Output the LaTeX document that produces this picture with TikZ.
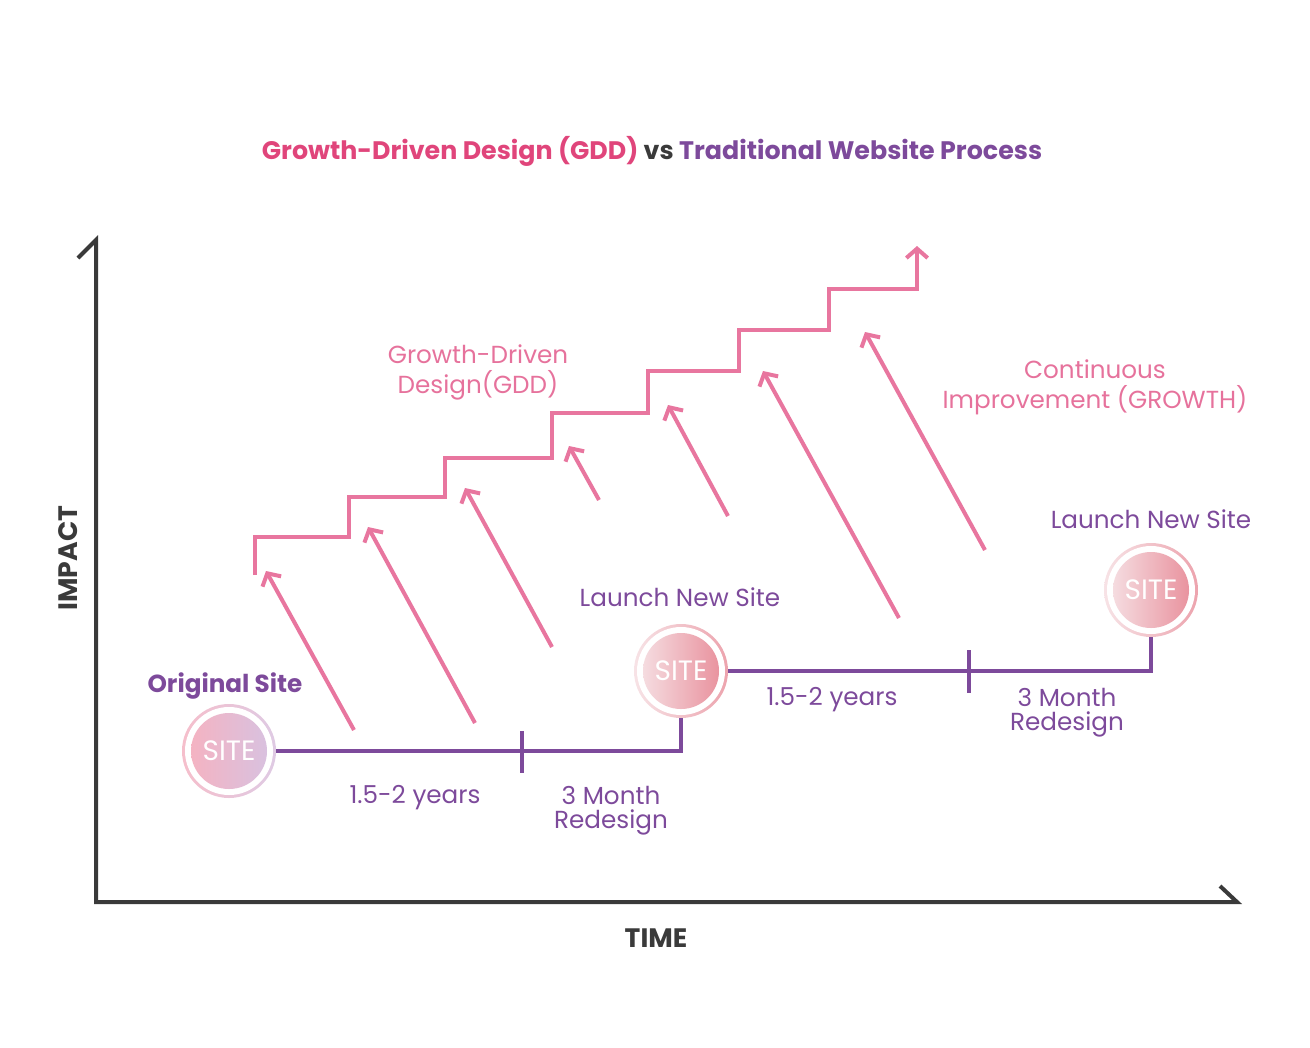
\documentclass[tikz,border=0pt]{standalone}
\usepackage{fontspec}
\setmainfont{Poppins}
\usetikzlibrary{arrows.meta}
\definecolor{gpink}{HTML}{E8769F}
\definecolor{tpink}{HTML}{E0457B}
\definecolor{lpink}{HTML}{E6729C}
\definecolor{gpurp}{HTML}{7D4A9B}
\definecolor{gdark}{HTML}{3A3A3A}
\definecolor{sitel}{HTML}{F5DCE0}
\definecolor{siter}{HTML}{E9939F}
\definecolor{origl}{HTML}{F4B3C2}
\definecolor{origr}{HTML}{D9C1DF}
\begin{document}
\begin{tikzpicture}[x=0.75pt,y=-0.75pt,
  axisline/.style={draw=gdark,line width=3pt},
  stair/.style={draw=gpink,line width=3pt},
  growarrow/.style={draw=gpink,line width=3pt,-{Straight Barb[length=7pt,width=16pt,line width=3pt]}},
  purpline/.style={draw=gpurp,line width=3pt},
  lbl/.style={font=\fontsize{18.5}{18}\selectfont,align=center,inner sep=0pt},
  lbltwo/.style={font=\fontsize{18.5}{22.5}\selectfont,align=center,inner sep=0pt},
  sitebase/.style={circle,minimum size=70.5pt,inner sep=0pt,shading=axis},
  sitetext/.style={text=white,font=\fontsize{21}{23}\selectfont,inner sep=0pt},
]
\useasboundingbox (0,0) rectangle (1310,1047);
% title
\node[inner sep=0pt,font=\fontsize{19}{21}\selectfont\bfseries] (title) at (652,151)
  {\textcolor{tpink}{Growth-Driven Design (GDD)} \textcolor{gdark}{vs} \textcolor{gpurp}{Traditional Website Process}};
% axes
\coordinate (origin) at (96,902);
\coordinate (ytop) at (96,240);
\coordinate (xend) at (1237,902);
\coordinate (ybarb) at (78,258);
\coordinate (xbarb) at (1220,886);
\draw[axisline,line join=miter] (ybarb) -- (ytop) -- (origin) -- (xend) -- (xbarb);
\node[inner sep=0pt,font=\fontsize{20}{22}\selectfont\bfseries,text=gdark,rotate=90] (impact) at (68,558) {IMPACT};
\node[inner sep=0pt,font=\fontsize{20}{22}\selectfont\bfseries,text=gdark] (time) at (656,938) {TIME};
% staircase
\coordinate (st0) at (255,575);
\coordinate (st1) at (349,537);
\coordinate (st2) at (445,497);
\coordinate (st3) at (552,458);
\coordinate (st4) at (648,413);
\coordinate (st5) at (739,371);
\coordinate (st6) at (829,330);
\coordinate (st7) at (917,289);
\coordinate (stend) at (917,246);
\draw[stair,-{Straight Barb[length=7pt,width=16pt,line width=3pt]}]
  (st0) |- (st1) |- (st2) |- (st3) |- (st4) |- (st5) |- (st6) |- (st7) -- (stend);
% growth arrows
\coordinate (a1s) at (354,730); \coordinate (a1e) at (266,571);
\coordinate (a2s) at (475,723); \coordinate (a2e) at (368,527);
\coordinate (a3s) at (552,647); \coordinate (a3e) at (465,488);
\coordinate (a4s) at (599,500); \coordinate (a4e) at (569,446);
\coordinate (a5s) at (728,516); \coordinate (a5e) at (668,405);
\coordinate (a6s) at (899,618); \coordinate (a6e) at (763,371);
\coordinate (a7s) at (985,550); \coordinate (a7e) at (865,332);
\foreach \i in {1,...,7} {\draw[growarrow] (a\i s) -- (a\i e);}
% sites
\node[sitebase,left color=origl!85,right color=origr!85,
  path picture={\fill[white] (path picture bounding box.center) circle (33pt);
    \shade[left color=origl,right color=origr] (path picture bounding box.center) circle (28.5pt);}]
  (s1) at (229,751) {};
\node[sitetext] at (s1) {SITE};
\node[sitebase,left color=sitel!80,right color=siter!85,
  path picture={\fill[white] (path picture bounding box.center) circle (33pt);
    \shade[left color=sitel,right color=siter] (path picture bounding box.center) circle (28.5pt);}]
  (s2) at (681,671) {};
\node[sitetext] at (s2) {SITE};
\node[sitebase,left color=sitel!80,right color=siter!85,
  path picture={\fill[white] (path picture bounding box.center) circle (33pt);
    \shade[left color=sitel,right color=siter] (path picture bounding box.center) circle (28.5pt);}]
  (s3) at (1151,590) {};
\node[sitetext] at (s3) {SITE};
% traditional path
\draw[purpline] (s1.east) -| (s2.south);
\draw[purpline] (s2.east) -| (s3.south);
\coordinate (t1a) at (522,731); \coordinate (t1b) at (522,773);
\coordinate (t2a) at (969,650); \coordinate (t2b) at (969,693);
\draw[purpline] (t1a) -- (t1b);
\draw[purpline] (t2a) -- (t2b);
% labels
\node[lbltwo,text=lpink] (gddlbl) at (478,372) {Growth-Driven\\Design(GDD)};
\node[lbltwo,text=lpink] (contlbl) at (1095,387) {Continuous\\Improvement (GROWTH)};
\node[lbl,text=gpurp,font=\fontsize{18.5}{20}\selectfont\bfseries] (origlbl) at (225,686) {Original Site};
\node[lbl,text=gpurp] (launch1) at (680,597) {Launch New Site};
\node[lbl,text=gpurp] (launch2) at (1151,519) {Launch New Site};
\node[lbl,text=gpurp] (yrs1) at (415,798) {1.5-2 years};
\node[lbl,text=gpurp] (yrs2) at (832,700) {1.5-2 years};
\node[lbl,text=gpurp] (red1) at (611,811) {3 Month\\Redesign};
\node[lbl,text=gpurp] (red2) at (1067,713) {3 Month\\Redesign};
\end{tikzpicture}
\end{document}
